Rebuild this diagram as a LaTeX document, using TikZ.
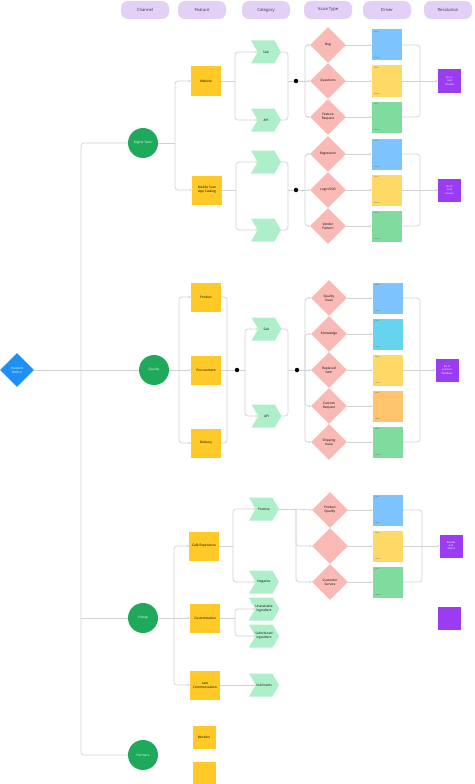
\documentclass[tikz,border=0pt]{standalone}
\usepackage{fontspec}
\setmainfont{Open Sans}
\usetikzlibrary{shapes.geometric,shapes.symbols,arrows.meta}
\definecolor{hdrc}{HTML}{E3D0F7}
\definecolor{hdrt}{HTML}{3A3350}
\definecolor{startc}{HTML}{1E90F5}
\definecolor{chanc}{HTML}{1FA95A}
\definecolor{featc}{HTML}{FFC928}
\definecolor{catc}{HTML}{AEEFC9}
\definecolor{issc}{HTML}{F9BAB5}
\definecolor{dblue}{HTML}{7DC4FF}
\definecolor{dyel}{HTML}{FFD966}
\definecolor{dgreen}{HTML}{7FDC9E}
\definecolor{dcyan}{HTML}{66D4EF}
\definecolor{dorange}{HTML}{FFC46C}
\definecolor{resc}{HTML}{9B3CF2}
\definecolor{linec}{HTML}{D2D2D2}
\begin{document}
\begin{tikzpicture}[x=1pt,y=-1pt,
  font=\fontsize{3.2}{3.9}\selectfont,
  hdr/.style={rounded corners=7pt,fill=hdrc,minimum width=48pt,minimum height=18pt,inner sep=0pt,text=hdrt,font=\fontsize{4.2}{5}\selectfont},
  startd/.style={diamond,aspect=1,fill=startc,minimum size=34pt,inner sep=0pt,text=white,align=center},
  chan/.style={circle,fill=chanc,minimum size=30pt,inner sep=0pt,text=white,align=center},
  feat/.style={rectangle,fill=featc,minimum width=30pt,minimum height=29pt,inner sep=0pt,align=center},
  cat/.style={signal,signal to=east,signal from=west,signal pointer angle=120,fill=catc,minimum width=30pt,minimum height=23pt,inner sep=0pt,align=center},
  iss/.style={diamond,aspect=1,fill=issc,minimum size=36pt,inner sep=0pt,align=center},
  drv/.style={rectangle,minimum width=30pt,minimum height=31pt,inner sep=0pt},
  res/.style={rectangle,fill=resc,minimum size=23pt,inner sep=0pt,text=white,align=center,font=\fontsize{2.6}{3.1}\selectfont},
  dotn/.style={circle,fill=black,minimum size=4.5pt,inner sep=0pt},
  ln/.style={draw=linec,line width=0.7pt,rounded corners=3pt},
  arr/.style={ln,-{Stealth[length=2.2pt,width=2.2pt]}},
  dnote/.style={font=\fontsize{1.8}{2}\selectfont,text=black!60,inner sep=0pt,anchor=north west}
]
\useasboundingbox (0,0) rectangle (474,784);

% headers
\node[hdr] (h1) at (145,10) {Channel};
\node[hdr] (h2) at (202,10) {Feature};
\node[hdr] (h3) at (266,10) {Category};
\node[hdr] (h4) at (328,10) {Issue Type};
\node[hdr] (h5) at (387,10) {Driver};
\node[hdr] (h6) at (448,10) {Resolution};

% start and channels
\node[startd] (start) at (17,370) {Incident\\Notice};
\node[chan] (dig) at (143,143) {Digital Tools};
\node[chan] (qual) at (154,370) {Quality};
\node[chan] (pick) at (143,618) {Pickup};
\node[chan] (part) at (143,755) {Partners};

\coordinate (tt) at (81,143);
\coordinate (tb) at (81,755);
\coordinate (tp) at (81,618);
\draw[ln] (dig.west) -- (tt) -- (tb) -- (part.west);
\draw[ln] (start.east) -- (qual.west);
\draw[ln] (tp) -- (pick.west);

% ===== Digital Tools =====
\node[feat] (web) at (206,81) {Website};
\node[feat] (mob) at (207,190) {Mobile Scan\\App Catalog};
\coordinate (jd) at (175,143);
\draw[ln] (dig.east) -- (jd);
\draw[arr] (jd) |- (web.west);
\draw[arr] (jd) |- (mob.west);

% website branch
\node[cat] (c1) at (266,52) {Sub};
\node[cat] (c2) at (266,120) {API};
\coordinate (jw) at (235,81);
\draw[ln] (web.east) -- (jw);
\draw[arr] (jw) |- (c1.west);
\draw[arr] (jw) |- (c2.west);
\coordinate (jw2) at (288,81);
\draw[ln] (c1.east) -| (jw2);
\draw[ln] (c2.east) -| (jw2);
\node[dotn] (d1) at (296,81) {};
\draw[ln] (jw2) -- (d1);
\node[iss] (i1) at (328,45) {Bug};
\node[iss] (i2) at (328,81) {Questions};
\node[iss] (i3) at (328,117) {Feature\\Request};
\coordinate (jw3) at (305,81);
\draw[ln] (d1) -- (jw3);
\draw[arr] (jw3) |- (i1.west);
\draw[arr] (jw3) -- (i2.west);
\draw[arr] (jw3) |- (i3.west);
\node[drv,fill=dblue] (v1) at (387,45) {};
\node[drv,fill=dyel] (v2) at (387,81) {};
\node[drv,fill=dgreen] (v3) at (387,117) {};
\draw[arr] (i1.east) -- (v1.west);
\draw[arr] (i2.east) -- (v2.west);
\draw[arr] (i3.east) -- (v3.west);
\node[res] (r1) at (449.5,81) {Fix in\\next\\release};
\coordinate (jw4) at (420,81);
\draw[ln] (v1.east) -| (jw4);
\draw[ln] (v3.east) -| (jw4);
\draw[ln] (v2.east) -- (jw4);
\draw[arr] (jw4) -- (r1.west);

% mobile branch
\node[cat] (c3) at (266,162) {};
\node[cat] (c4) at (266,230) {};
\coordinate (jm) at (236,190);
\draw[ln] (mob.east) -- (jm);
\draw[arr] (jm) |- (c3.west);
\draw[arr] (jm) |- (c4.west);
\coordinate (jm2) at (288,190);
\draw[ln] (c3.east) -| (jm2);
\draw[ln] (c4.east) -| (jm2);
\node[dotn] (d2) at (296,190) {};
\draw[ln] (jm2) -- (d2);
\node[iss] (i4) at (328,154) {Regression};
\node[iss] (i5) at (328,190) {Login/SSO};
\node[iss] (i6) at (328,226) {Vendor\\Pattern};
\coordinate (jm3) at (305,190);
\draw[ln] (d2) -- (jm3);
\draw[arr] (jm3) |- (i4.west);
\draw[arr] (jm3) -- (i5.west);
\draw[arr] (jm3) |- (i6.west);
\node[drv,fill=dblue] (v4) at (387,154) {};
\node[drv,fill=dyel] (v5) at (387,190) {};
\node[drv,fill=dgreen] (v6) at (387,226) {};
\draw[arr] (i4.east) -- (v4.west);
\draw[arr] (i5.east) -- (v5.west);
\draw[arr] (i6.east) -- (v6.west);
\node[res] (r2) at (449.5,190) {Fix in\\next\\release};
\coordinate (jm4) at (420,190);
\draw[ln] (v4.east) -| (jm4);
\draw[ln] (v6.east) -| (jm4);
\draw[ln] (v5.east) -- (jm4);
\draw[arr] (jm4) -- (r2.west);

% ===== Quality =====
\node[feat] (prod) at (206,297) {Product};
\node[feat] (proc) at (206,370) {Procurement};
\node[feat] (deli) at (206,443) {Delivery};
\coordinate (jq) at (179,370);
\draw[ln] (qual.east) -- (jq);
\draw[arr] (jq) |- (prod.west);
\draw[arr] (jq) -- (proc.west);
\draw[arr] (jq) |- (deli.west);
\coordinate (jq2) at (227,370);
\draw[ln] (prod.east) -| (jq2);
\draw[ln] (deli.east) -| (jq2);
\draw[ln] (proc.east) -- (jq2);
\node[dotn] (d3) at (237,370) {};
\draw[ln] (jq2) -- (d3);
\node[cat] (c5) at (266.5,329) {Sub};
\node[cat] (c6) at (266.5,416) {API};
\coordinate (jq3) at (245,370);
\draw[ln] (d3) -- (jq3);
\draw[arr] (jq3) |- (c5.west);
\draw[arr] (jq3) |- (c6.west);
\coordinate (jq4) at (288,370);
\draw[ln] (c5.east) -| (jq4);
\draw[ln] (c6.east) -| (jq4);
\node[dotn] (d4) at (297,370) {};
\draw[ln] (jq4) -- (d4);
\node[iss] (i7) at (329,298) {Quality\\Issue};
\node[iss] (i8) at (329,334) {Knowledge};
\node[iss] (i9) at (329,370) {Replaced\\Item};
\node[iss] (i10) at (329,406) {Custom\\Request};
\node[iss] (i11) at (329,442) {Shipping\\Issue};
\coordinate (jq5) at (305,370);
\draw[ln] (d4) -- (jq5);
\draw[arr] (jq5) |- (i7.west);
\draw[arr] (jq5) |- (i8.west);
\draw[arr] (jq5) -- (i9.west);
\draw[arr] (jq5) |- (i10.west);
\draw[arr] (jq5) |- (i11.west);
\node[drv,fill=dblue] (v7) at (388,298) {};
\node[drv,fill=dcyan] (v8) at (388,334) {};
\node[drv,fill=dyel] (v9) at (388,370) {};
\node[drv,fill=dorange] (v10) at (388,406) {};
\node[drv,fill=dgreen] (v11) at (388,442) {};
\draw[arr] (i7.east) -- (v7.west);
\draw[arr] (i8.east) -- (v8.west);
\draw[arr] (i9.east) -- (v9.west);
\draw[arr] (i10.east) -- (v10.west);
\draw[arr] (i11.east) -- (v11.west);
\node[res] (r3) at (447,370) {Fix in\\product\\database};
\coordinate (jq6) at (420,370);
\draw[ln] (v7.east) -| (jq6);
\draw[ln] (v11.east) -| (jq6);
\draw[ln] (v9.east) -- (jq6);
\draw[arr] (jq6) -- (r3.west);

% ===== Pickup =====
\node[feat] (cafe) at (204,546) {Café Experience};
\node[feat] (cust) at (205,618) {Customization};
\node[feat] (late) at (205,685) {Late\\Communication};
\coordinate (jp) at (174,618);
\draw[ln] (pick.east) -- (jp);
\draw[arr] (jp) |- (cafe.west);
\draw[arr] (jp) -- (cust.west);
\draw[arr] (jp) |- (late.west);
\node[cat] (c7) at (264,509) {Positive};
\node[cat] (c8) at (264,582) {Negative};
\coordinate (jc) at (233,546);
\draw[ln] (cafe.east) -- (jc);
\draw[arr] (jc) |- (c7.west);
\draw[arr] (jc) |- (c8.west);
\node[iss] (i12) at (330,510) {Product\\Quality};
\node[iss] (i13) at (330,546) {};
\node[iss] (i14) at (330,582) {Customer\\Service};
\coordinate (jpos) at (296,509);
\draw[ln] (c7.east) -- (jpos);
\draw[arr] (jpos) -- (i12.west);
\draw[arr] (jpos) |- (i13.west);
\draw[arr] (jpos) |- (i14.west);
\node[drv,fill=dblue] (v12) at (388,510) {};
\node[drv,fill=dyel] (v13) at (388,546) {};
\node[drv,fill=dgreen] (v14) at (388,582) {};
\draw[arr] (i12.east) -- (v12.west);
\draw[arr] (i13.east) -- (v13.west);
\draw[arr] (i14.east) -- (v14.west);
\node[res] (r4) at (451,546) {Review\\and\\adjust};
\coordinate (jp4) at (422,546);
\draw[ln] (v12.east) -| (jp4);
\draw[ln] (v14.east) -| (jp4);
\draw[ln] (v13.east) -- (jp4);
\draw[arr] (jp4) -- (r4.west);
\node[res] (r5) at (449,618) {};

\node[cat] (c9) at (264,609) {Unavailable\\ingredient};
\node[cat] (c10) at (264,636) {Substituted\\ingredient};
\coordinate (jcu) at (235,618);
\draw[ln] (cust.east) -- (jcu);
\draw[arr] (jcu) |- (c9.west);
\draw[arr] (jcu) |- (c10.west);
\node[cat] (c11) at (264,685) {Sold Items};
\draw[arr] (late.east) -- (c11.west);

% ===== Partners =====
\node[feat,minimum width=23pt,minimum height=23pt] (wk) at (204,737) {Workers};
\node[feat,minimum width=23pt,minimum height=23pt] (wk2) at (204,773) {};

% driver notes
\foreach \v in {v1,v2,v3,v4,v5,v6,v7,v8,v9,v10,v11,v12,v13,v14}{
  \node[dnote] at ([shift={(2,2)}]\v.north west) {Note};
  \node[dnote,anchor=south west] at ([shift={(2,-2)}]\v.south west) {Owner};
}
\end{tikzpicture}
\end{document}
